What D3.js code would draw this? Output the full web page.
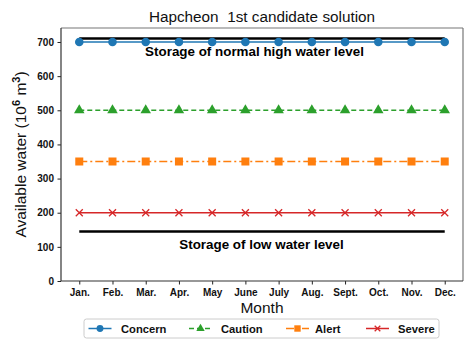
<!DOCTYPE html>
<html><head><meta charset="utf-8">
<script src="https://cdn.jsdelivr.net/npm/d3@7"></script>
<style>body{margin:0;background:#fff}svg{display:block;font-family:"Liberation Sans",Arial,sans-serif}</style>
</head><body>
<svg id="c" width="474" height="355"></svg>
<script>
const months = ["Jan.","Feb.","Mar.","Apr.","May","June","July","Aug.","Sept.","Oct.","Nov.","Dec."];
const concern = [700,700,700,700,700,700,700,700,700,700,700,700];
const caution = [500,500,500,500,500,500,500,500,500,500,500,500];
const alert_ = [350,350,350,350,350,350,350,350,350,350,350,350];
const severe = [200,200,200,200,200,200,200,200,200,200,200,200];
const normalHigh = 710;
const lowLevel = 145;
const yTicks = [0,100,200,300,400,500,600,700];

const series = [
  {name:"Concern", values:concern, color:"#1f77b4", dash:null, marker:"circle"},
  {name:"Caution", values:caution, color:"#2ca02c", dash:"5,3", marker:"triangle"},
  {name:"Alert", values:alert_, color:"#ff7f0e", dash:"8,3,2,3", marker:"square"},
  {name:"Severe", values:severe, color:"#d62728", dash:null, marker:"x"}
];

const svg = d3.select("#c");
const L=61,R=463,T=28,B=281;
const x = d3.scaleLinear().domain([-0.55,11.55]).range([L,R]);
const y = d3.scaleLinear().domain([0,741]).range([B,T]);

const yAxis = svg.append("g").attr("transform",`translate(${L},0)`)
  .call(d3.axisLeft(y).tickValues(yTicks).tickSize(3.5).tickPadding(3.5));
const xAxis = svg.append("g").attr("transform",`translate(0,${B})`)
  .call(d3.axisBottom(x).tickValues(d3.range(12)).tickFormat(i=>months[i]).tickSize(3.5).tickPadding(4));
[yAxis,xAxis].forEach(g=>{
  g.select(".domain").remove();
  g.selectAll("text").attr("font-size","10px").attr("font-weight","bold").attr("fill","#111")
    .style("font-family","'Liberation Sans',Arial,sans-serif");
  g.selectAll("line").attr("stroke","#222");
});
svg.append("line").attr("x1",L).attr("x2",R).attr("y1",T).attr("y2",T).attr("stroke","#777").attr("stroke-width",1.2);
svg.append("line").attr("x1",R).attr("x2",R).attr("y1",T).attr("y2",B).attr("stroke","#777").attr("stroke-width",1.2);
svg.append("line").attr("x1",L).attr("x2",L).attr("y1",T).attr("y2",B).attr("stroke","#333").attr("stroke-width",1.2);
svg.append("line").attr("x1",L).attr("x2",R).attr("y1",B).attr("y2",B).attr("stroke","#333").attr("stroke-width",1.2);

const refLine = d3.line().x((d,i)=>x(i)).y(d=>y(d));
svg.append("path").attr("d",refLine(months.map(()=>normalHigh))).attr("stroke","#000").attr("stroke-width",2.5).attr("fill","none");
svg.append("path").attr("d",refLine(months.map(()=>lowLevel))).attr("stroke","#000").attr("stroke-width",2.5).attr("fill","none");

function drawMarker(g, type, cx, cy, color, s){
  s = s||1;
  if(type==="circle") g.append("circle").attr("cx",cx).attr("cy",cy).attr("r",4.3*s).attr("fill",color);
  else if(type==="triangle") g.append("path").attr("d",d3.symbol(d3.symbolTriangle,48*s*s)()).attr("transform",`translate(${cx},${cy})`).attr("fill",color);
  else if(type==="square") g.append("rect").attr("x",cx-4*s).attr("y",cy-4*s).attr("width",8*s).attr("height",8*s).attr("fill",color);
  else if(type==="x") g.append("path").attr("d",`M${cx-3.5*s},${cy-3.5*s}L${cx+3.5*s},${cy+3.5*s}M${cx-3.5*s},${cy+3.5*s}L${cx+3.5*s},${cy-3.5*s}`).attr("stroke",color).attr("stroke-width",1.3);
}

series.forEach(s=>{
  const g = svg.append("g");
  g.append("path").attr("d",d3.line().x((d,i)=>x(i)).y(d=>y(d))(s.values))
    .attr("stroke",s.color).attr("stroke-width",1.5).attr("fill","none").attr("stroke-dasharray",s.dash);
  s.values.forEach((v,i)=>drawMarker(g,s.marker,x(i),y(v),s.color));
});

svg.append("text").attr("x",254.5).attr("y",55.5).attr("text-anchor","middle").attr("font-weight","bold").attr("font-size","13.4px").text("Storage of normal high water level");
svg.append("text").attr("x",261.5).attr("y",248.5).attr("text-anchor","middle").attr("font-weight","bold").attr("font-size","13.4px").text("Storage of low water level");

svg.append("text").attr("x",262).attr("y",22).attr("text-anchor","middle").attr("font-size","15.3px").attr("fill","#111").attr("xml:space","preserve").text("Hapcheon  1st candidate solution");
svg.append("text").attr("x",262).attr("y",313).attr("text-anchor","middle").attr("font-size","15.5px").attr("fill","#111").text("Month");
const yl = svg.append("text").attr("transform",`translate(26,${(T+B)/2}) rotate(-90)`).attr("text-anchor","middle").attr("font-size","15.5px").attr("fill","#111");
yl.append("tspan").text("Available water (10");
yl.append("tspan").attr("dy",-6).attr("font-size","11px").attr("font-weight","bold").text("6");
yl.append("tspan").attr("dy",6).text(" m");
yl.append("tspan").attr("dy",-6).attr("font-size","11px").attr("font-weight","bold").text("3");
yl.append("tspan").attr("dy",6).text(")");

svg.append("rect").attr("x",84).attr("y",319).attr("width",355).attr("height",19).attr("rx",2.5).attr("fill","#fff").attr("stroke","#ccc").attr("stroke-width",1);
const legX = [88.5,189,286,366];
const legTX = [121,221,315,398];
series.forEach((s,i)=>{
  const g = svg.append("g");
  const cy = 328.5;
  g.append("line").attr("x1",legX[i]).attr("x2",legX[i]+23).attr("y1",cy).attr("y2",cy).attr("stroke",s.color).attr("stroke-width",1.5).attr("stroke-dasharray",s.dash);
  drawMarker(g,s.marker,legX[i]+11.5,cy,s.color,0.8);
  g.append("text").attr("x",legTX[i]).attr("y",cy+4).attr("font-size","11.2px").attr("font-weight","bold").attr("fill","#111").text(s.name);
});
</script>
</body></html>
